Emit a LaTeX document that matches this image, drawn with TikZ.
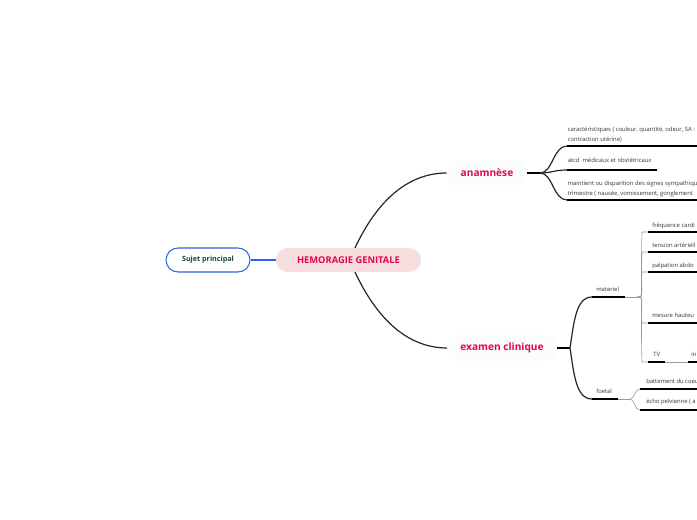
\documentclass[tikz,border=0pt]{standalone}
\usepackage{fontspec}
\setmainfont{Open Sans}
\definecolor{sujetblue}{HTML}{2A62E6}
\definecolor{sujetgreen}{HTML}{1B4A2E}
\definecolor{mainpink}{HTML}{F6DEDF}
\definecolor{crimson}{HTML}{E2064F}
\definecolor{faint}{HTML}{FBFDFD}
\definecolor{leafgray}{HTML}{333333}
\tikzset{
  sujetbox/.style={draw=sujetblue, line width=0.8pt, fill=white, rounded corners=9pt,
    minimum width=63pt, minimum height=18pt, inner sep=0pt, text=sujetgreen,
    font=\bfseries\fontsize{5.4}{6.5}\selectfont},
  mainbox/.style={fill=mainpink, rounded corners=9pt, minimum width=108.75pt,
    minimum height=18pt, inner sep=0pt, text=crimson,
    font=\bfseries\fontsize{7}{8}\selectfont},
  lvlone/.style={fill=faint, rounded corners=7pt, minimum height=19pt, inner sep=0pt,
    text=crimson, font=\bfseries\fontsize{7.6}{9}\selectfont},
  leaf/.style={anchor=base west, inner sep=0pt, align=left, text=leafgray,
    font=\fontsize{4.4}{7.3}\selectfont},
  uline/.style={line width=1.1pt, black},
  conn/.style={line width=0.9pt, black!85},
  thinconn/.style={line width=0.45pt, black!40},
  blueconn/.style={line width=0.8pt, sujetblue},
}
\begin{document}
\begin{tikzpicture}[x=0.75pt,y=-0.75pt]
\path[use as bounding box] (0,0) rectangle (697,520);
\clip (0,0) rectangle (697,520);

% central nodes
\node[sujetbox] (sujet) at (208,260) {Sujet principal};
\node[mainbox] (main) at (348.5,260) {HEMORAGIE GENITALE};
\draw[blueconn] (sujet.east) -- (main.west);

% level one
\node[lvlone, minimum width=60pt] (ana) at (487,173) {anamnèse};
\node[lvlone, minimum width=82pt] (exa) at (502,348) {examen clinique};
\coordinate (mtop) at (355,248);
\coordinate (mbot) at (355,272);
\draw[conn] (mtop) .. controls (375,205) and (405,173) .. (ana.west);
\draw[conn] (mbot) .. controls (375,315) and (405,348) .. (exa.west);

% anamnese branch
\coordinate (anaj) at (540,173);
\draw[line width=1.5pt] (ana.east) -- (anaj);
\coordinate (a1s) at (567,146); \coordinate (a1e) at (720,146);
\coordinate (a2s) at (567,170); \coordinate (a2e) at (657,170);
\coordinate (a3s) at (567,200); \coordinate (a3e) at (720,200);
\draw[conn] (anaj) .. controls (553,173) and (553,146) .. (a1s);
\draw[conn] (anaj) .. controls (553,173) and (553,170) .. (a2s);
\draw[conn] (anaj) .. controls (553,173) and (553,200) .. (a3s);
\draw[uline] (a1s) -- (a1e);
\draw[uline] (a2s) -- (a2e);
\draw[uline] (a3s) -- (a3e);
\node[leaf] (a1) at (567.5,141.5) {caractéristiques ( couleur, quantité, odeur, SA :\\contraction utérine)};
\node[leaf] (a2) at (567.5,162.5) {atcd\ \ médicaux et obstétricaux};
\node[leaf] (a3) at (567.5,195.5) {maintient ou disparition des signes sympathiqu\\trimestre ( nausée, vomissement, gonglement};

% examen clinique branch
\coordinate (exj) at (570,348);
\draw[line width=1.5pt] (exa.east) -- (exj);
\coordinate (mats) at (592,297); \coordinate (mate) at (625,297); \coordinate (matj) at (637,297);
\coordinate (foes) at (592,399); \coordinate (foee) at (618,399); \coordinate (foej) at (630,399);
\draw[conn] (exj) .. controls (574,322) and (576,297) .. (mats);
\draw[conn] (exj) .. controls (574,374) and (576,399) .. (foes);
\draw[uline] (mats) -- (mate);
\draw[thinconn] (mate) -- (matj);
\draw[uline] (foes) -- (foee);
\draw[thinconn] (foee) -- (foej);
\node[leaf] (mat) at (596,292) {materiel};
\node[leaf] (foe) at (596,394) {foetal};

% materiel children
\coordinate (m1s) at (648,232); \coordinate (m1e) at (720,232);
\coordinate (m2s) at (648,252); \coordinate (m2e) at (720,252);
\coordinate (m3s) at (648,272); \coordinate (m3e) at (720,272);
\coordinate (m4s) at (648,323); \coordinate (m4e) at (720,323);
\coordinate (m5s) at (648,362); \coordinate (m5e) at (665,362);
\foreach \c in {m1s,m2s,m3s,m4s,m5s}{
  \draw[thinconn] (matj) .. controls (645,297) and (640,297) .. ([xshift=-4.5pt]\c) .. controls ([xshift=-2.5pt]\c) .. (\c);
}
\draw[uline] (m1s) -- (m1e);
\draw[uline] (m2s) -- (m2e);
\draw[uline] (m3s) -- (m3e);
\draw[uline] (m4s) -- (m4e);
\draw[uline] (m5s) -- (m5e);
\node[leaf] (m1) at (652,228) {fréquence cardi};
\node[leaf] (m2) at (652,247.5) {tension artériell};
\node[leaf] (m3) at (652,267.5) {palpation abdo};
\node[leaf] (m4) at (652,318) {mesure hauteu};
\node[leaf] (m5) at (653,357) {TV};
\coordinate (t1s) at (688,362); \coordinate (t1e) at (720,362);
\draw[thinconn] (m5e) -- (t1s);
\draw[uline] (t1s) -- (t1e);
\node[leaf] (t1) at (691,357) {in};

% foetal children
\coordinate (f1s) at (640,389); \coordinate (f1e) at (720,389);
\coordinate (f2s) at (640,410); \coordinate (f2e) at (720,410);
\draw[thinconn] (foej) .. controls (635,399) and (634,389) .. (f1s);
\draw[thinconn] (foej) .. controls (635,399) and (634,410) .. (f2s);
\draw[uline] (f1s) -- (f1e);
\draw[uline] (f2s) -- (f2e);
\node[leaf] (f1) at (646,384) {battement du coeu};
\node[leaf] (f2) at (646,404) {écho pelvienne ( a};
\end{tikzpicture}
\end{document}
